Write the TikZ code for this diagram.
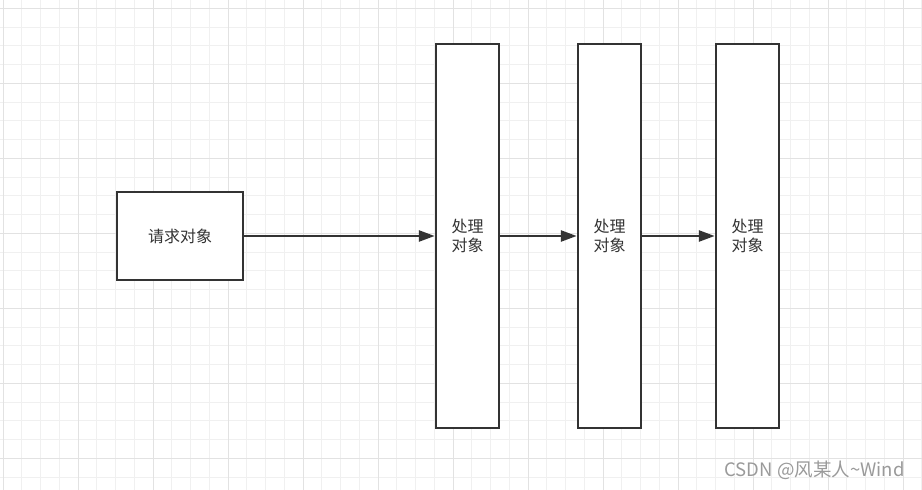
\documentclass[tikz,border=0pt]{standalone}
\usepackage{fontspec}
\setmainfont{Noto Sans CJK SC}
\usetikzlibrary{arrows.meta}
\definecolor{gridminor}{HTML}{F0F0F0}
\definecolor{gridmajor}{HTML}{E2E2E2}
\definecolor{boxline}{HTML}{333333}
\definecolor{markgray}{HTML}{9A9A9A}

\begin{document}
\begin{tikzpicture}[x=1pt,y=-1pt]

    \tikzset{box/.style={rectangle, draw=boxline, line width=2.5pt, fill=white, inner sep=0pt, font=\fontsize{16pt}{19pt}\selectfont, text=black!80}}
    \tikzset{handler/.style={box, minimum width=63pt, minimum height=384pt, align=center}}
    \tikzset{pass/.style={draw=boxline, line width=2.5pt, -{Triangle[length=16pt,width=11pt]}}}

    % BACKGROUND AND GRID
    \useasboundingbox (0,0) rectangle (922,490);
    \fill[white] (0,0) rectangle (922,490);
    \foreach \k in {0,...,49} {
      \draw[gridminor, line width=1pt] ({3+18.75*\k},0) -- ({3+18.75*\k},490);
    }
    \foreach \k in {0,...,26} {
      \draw[gridminor, line width=1pt] (0,{8.3+18.75*\k}) -- (922,{8.3+18.75*\k});
    }
    \foreach \k in {0,...,12} {
      \draw[gridmajor, line width=1pt] ({3+75*\k},0) -- ({3+75*\k},490);
    }
    \foreach \k in {0,...,6} {
      \draw[gridmajor, line width=1pt] (0,{8.3+75*\k}) -- (922,{8.3+75*\k});
    }

    % REQUEST
    \node(req) at (180,236) [box, minimum width=126pt, minimum height=88pt] {请求对象};

    % HANDLERS
    \node(h1) at (467.5,236) [handler] {处理\\对象};
    \node(h2) at (609.5,236) [handler] {处理\\对象};
    \node(h3) at (747.5,236) [handler] {处理\\对象};

    % CHAIN
    \draw[pass] (req) -- (h1);
    \draw[pass] (h1) -- (h2);
    \draw[pass] (h2) -- (h3);

    % WATERMARK
    \node(mark) at (814.5,470) [text=markgray, font=\fontsize{18.5pt}{22pt}\selectfont, inner sep=0pt] {CSDN @风某人\textasciitilde Wind};

\end{tikzpicture}
\end{document}
